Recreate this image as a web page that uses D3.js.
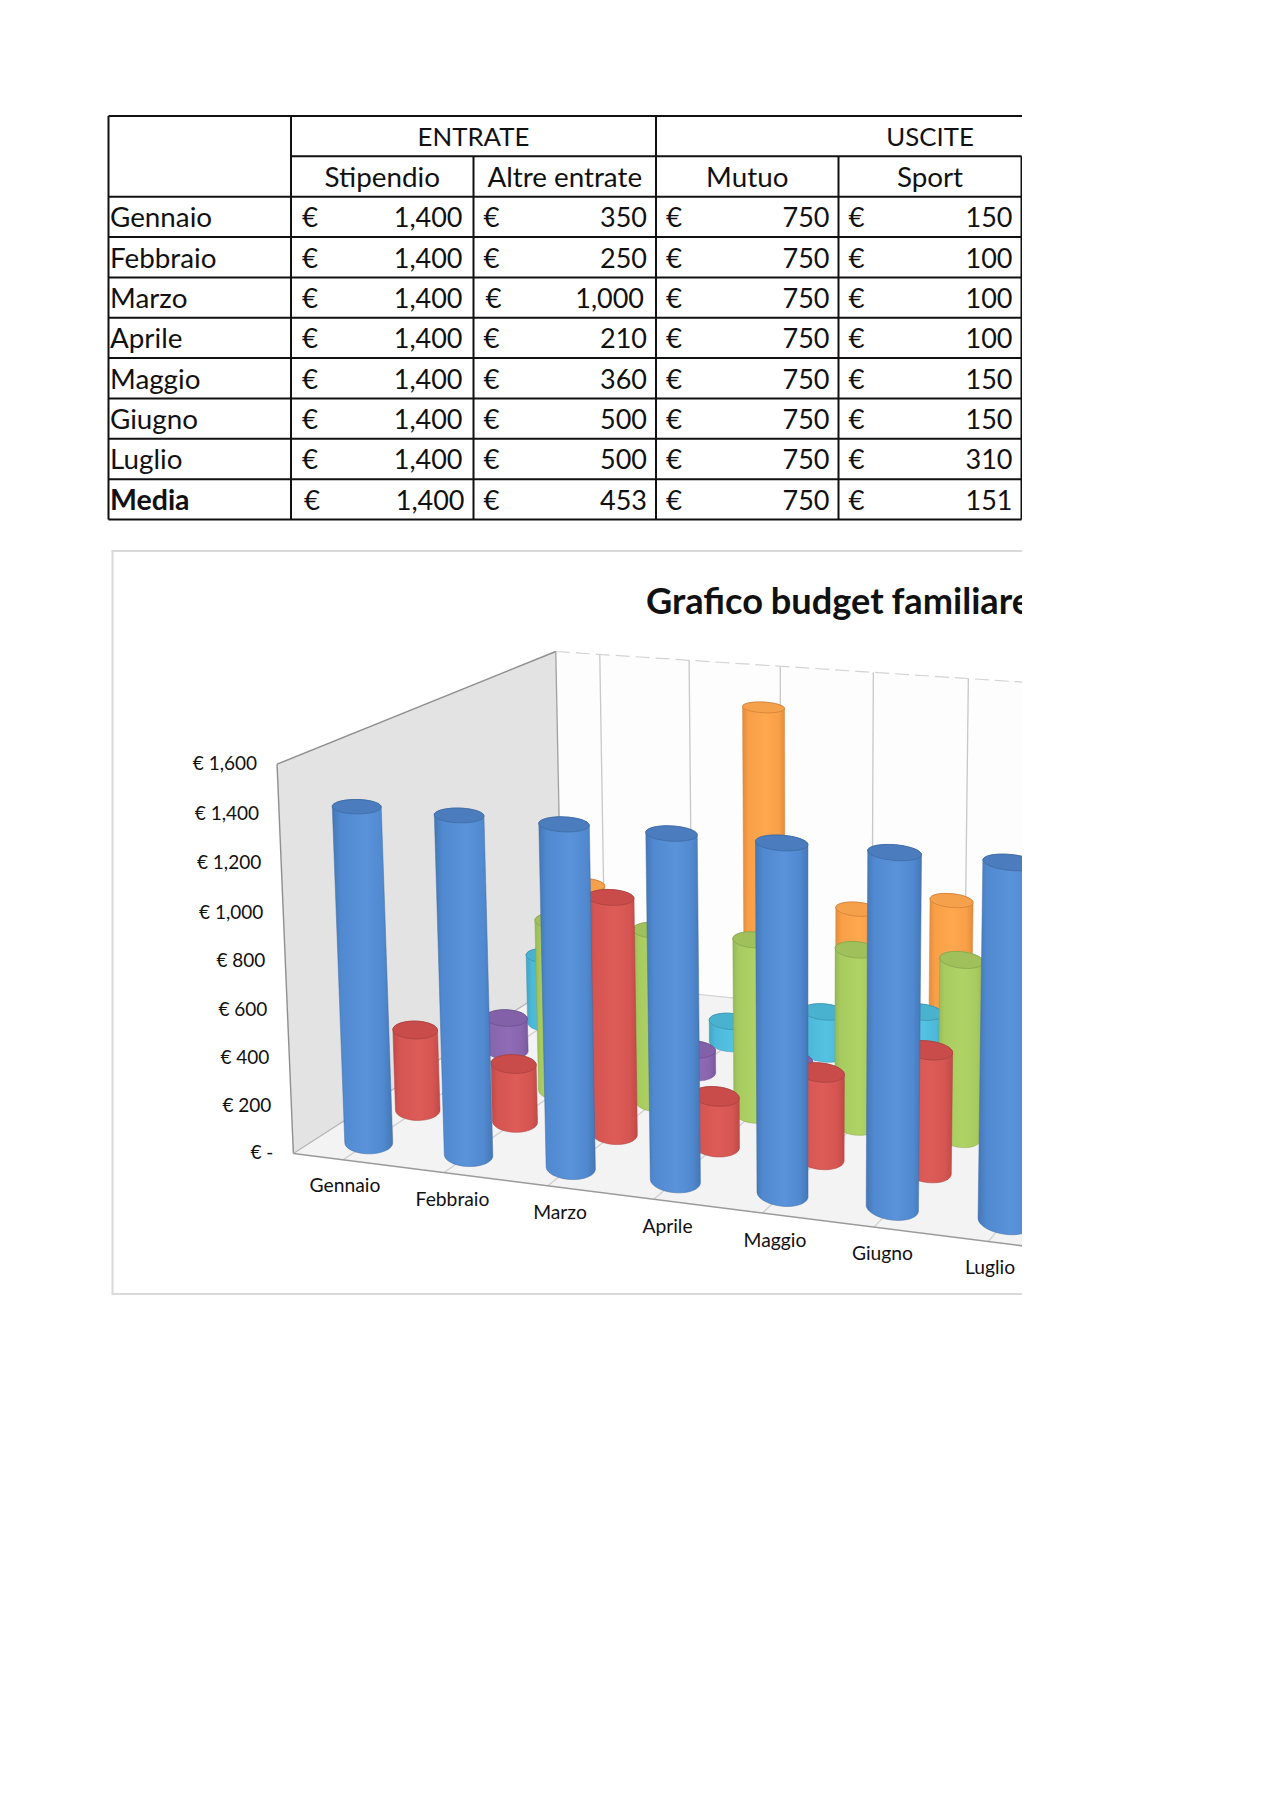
<!DOCTYPE html>
<html><head><meta charset="utf-8">
<script src="https://cdn.jsdelivr.net/npm/d3@7"></script>
<style>html,body{margin:0;padding:0;background:#fff}svg{display:block}text{font-family:Lato,Carlito,sans-serif;fill:#111}</style>
</head><body><div id="c"></div>
<script>
const categories=["Gennaio","Febbraio","Marzo","Aprile","Maggio","Giugno","Luglio"];
const rowLabels=[...categories,"Media"];
const stipendio=[1400,1400,1400,1400,1400,1400,1400];
const altreEntrate=[350,250,1000,210,360,500,500];
const mutuo=[750,750,750,750,750,750,750];
const sport=[150,100,100,100,150,150,310];
const serie5=[320,200,100,190,235,260,200];
const serie6=[545,560,1450,550,630,480,450];
const mediaRow=[1400,453,750,151];
const columnsHeader=["Stipendio","Altre entrate","Mutuo","Sport"];
const valueTicks=[0,200,400,600,800,1000,1200,1400,1600];
const seriesNames=["Stipendio","Altre entrate","Mutuo","Sport","Serie5","Serie6"];
const seriesValues=[stipendio,altreEntrate,mutuo,sport,serie5,serie6];
const palette=[
 {dark:"#4577b6",mid:"#5089cf",light:"#5a93d9",top:"#4a7cbe",line:"#3f6ba3"},
 {dark:"#c24a47",mid:"#d55552",light:"#de5c58",top:"#c94c4b",line:"#a84240"},
 {dark:"#98b957",mid:"#a8cb60",light:"#b0d366",top:"#9fc05a",line:"#86a64c"},
 {dark:"#7a5a9e",mid:"#8866ae",light:"#8f6cb5",top:"#8261a8",line:"#6d5090"},
 {dark:"#43a5c2",mid:"#4db9d9",light:"#54c2e2",top:"#48b2cf",line:"#3c94ad"},
 {dark:"#e58c3c",mid:"#f89f48",light:"#ffa84f",top:"#f5a04a",line:"#d0803a"}
];
const W=1280,H=1811,clipRight=1022;
const svg=d3.select("#c").append("svg").attr("width",W).attr("height",H);
const defs=svg.append("defs");
defs.append("clipPath").attr("id","page").append("rect").attr("x",0).attr("y",0).attr("width",clipRight).attr("height",H);
const root=svg.append("g").attr("clip-path","url(#page)");

/* ---------- table ---------- */
const colX=[108.5,291,473.5,656,838.5,1021.5];
const rowScale=d3.scaleLinear().domain([0,10]).range([116,519.5]);
const t=root.append("g");
const tl=(x1,y1,x2,y2)=>t.append("line").attr("x1",x1).attr("y1",y1).attr("x2",x2).attr("y2",y2).attr("stroke","#111").attr("stroke-width",2);
tl(colX[0],rowScale(0),clipRight,rowScale(0));
tl(colX[1],rowScale(1),colX[5],rowScale(1));
d3.range(2,11).forEach(r=>tl(colX[0],rowScale(r),colX[5],rowScale(r)));
tl(colX[0],rowScale(0),colX[0],rowScale(10));
tl(colX[1],rowScale(0),colX[1],rowScale(10));
tl(colX[2],rowScale(1),colX[2],rowScale(10));
tl(colX[3],rowScale(0),colX[3],rowScale(10));
tl(colX[4],rowScale(1),colX[4],rowScale(10));
tl(colX[5],rowScale(1),colX[5],rowScale(10));
const cellY=r=>rowScale(r)+30.5;
const tt=(s,x,y,anchor,bold,size)=>t.append("text").attr("x",x).attr("y",y).attr("text-anchor",anchor).attr("font-size",size||(bold?28.5:27.8)).attr("font-weight",bold?700:400).text(s);
tt("ENTRATE",(colX[1]+colX[3])/2,cellY(0)-1,"middle",false,25.8);
tt("USCITE",930,cellY(0)-1,"middle",false,25.8);
columnsHeader.forEach((c,i)=>tt(c,(colX[i+1]+colX[i+2])/2,cellY(1),"middle"));
const tableCols=[stipendio,altreEntrate,mutuo,sport];
const fmt=d3.format(",");
rowLabels.forEach((lab,r)=>{
  const isMedia=r===7;
  tt(lab,110,cellY(r+2),"start",isMedia);
  tableCols.forEach((col,c)=>{
    const v=isMedia?mediaRow[c]:col[r];
    const nudge=(c===0?-2:0)+((c===0&&isMedia)?2:(c===1&&v===1000)?-3:0);
    const eNudge=(c===0&&isMedia)?2:(c===1&&v===1000)?1:(c>=1?-1:0);
    tt("€",colX[c+1]+11+eNudge,cellY(r+2),"start");
    tt(fmt(v),colX[c+2]-9+nudge,cellY(r+2),"end",false,27);
  });
});

/* ---------- chart frame ---------- */
root.append("rect").attr("x",112.5).attr("y",551).attr("width",1100).attr("height",743).attr("fill","#fff").attr("stroke","#d9d9d9").attr("stroke-width",2);
root.append("text").attr("x",646).attr("y",614).attr("font-size",36.2).attr("font-weight",700).attr("word-spacing",-1).text("Grafico budget familiare");

/* ---------- scales + camera ---------- */
const xBand=d3.scaleBand().domain(categories).range([0,7]);
const zBand=d3.scaleBand().domain(seriesNames).range([0,1]);
const yVal=d3.scaleLinear().domain([0,1600]).range([0,1]);
const xc=c=>xBand(c)+xBand.bandwidth()/2;
const zc=s=>zBand(s)+zBand.bandwidth()/2;
/* camera anchors: world (x,y,z) -> page pixel, solved by least squares for a 3x4 projection */
const cameraAnchors=[
 [0,0,0,293,1154],[0,1,0,277,764],[0,1,1,556,652],[0,0,1,563,982],
 [.5,0,0,343,1160],[1.5,0,0,445,1173],[2.5,0,0,548,1187],[3.5,0,0,653,1200],[4.5,0,0,762,1213],[5.5,0,0,875,1228],[6.5,0,0,988,1243],
 [.5,1,1,600,654],[1.5,1,1,689,660],[2.5,1,1,780,666],[3.5,1,1,873,672],[4.5,1,1,968,678],
 [.5,.875,1/12,357,807],[.5,0,1/12,368,1139],[3.5,.875,1/12,672,834],[3.5,0,1/12,676,1179],[5.5,.875,1/12,894,853],[5.5,0,1/12,893,1207],
 [6.5,.875,1/12,1011,863],[6.5,0,1/12,1004,1220],
 [.5,0,3/12,417,1110]
];
function solveCamera(pts){
  const n=11,A=d3.range(n).map(()=>new Array(n).fill(0)),b=new Array(n).fill(0);
  const add=(row,rhs)=>{for(let i=0;i<n;i++){b[i]+=row[i]*rhs;for(let j=0;j<n;j++)A[i][j]+=row[i]*row[j];}};
  pts.forEach(([x,y,z,u,v])=>{
    const U=u/1000,V=v/1000;
    add([x,y,z,1,0,0,0,0,-U*x,-U*y,-U*z],U);
    add([0,0,0,0,x,y,z,1,-V*x,-V*y,-V*z],V);
  });
  for(let i=0;i<n;i++){
    let p=i;for(let r=i+1;r<n;r++)if(Math.abs(A[r][i])>Math.abs(A[p][i]))p=r;
    [A[i],A[p]]=[A[p],A[i]];[b[i],b[p]]=[b[p],b[i]];
    for(let r=i+1;r<n;r++){const f=A[r][i]/A[i][i];for(let c=i;c<n;c++)A[r][c]-=f*A[i][c];b[r]-=f*b[i];}
  }
  const s=new Array(n).fill(0);
  for(let i=n-1;i>=0;i--){let v=b[i];for(let c=i+1;c<n;c++)v-=A[i][c]*s[c];s[i]=v/A[i][i];}
  return s;
}
const M=solveCamera(cameraAnchors);
const proj=(x,y,z)=>{const w=M[8]*x+M[9]*y+M[10]*z+1;
  return [1000*(M[0]*x+M[1]*y+M[2]*z+M[3])/w,1000*(M[4]*x+M[5]*y+M[6]*z+M[7])/w];};
const line=d3.line();
const chart=root.append("g");

/* walls */
chart.append("path").attr("d",line([proj(0,0,0),proj(0,1,0),proj(0,1,1),proj(0,0,1)])+"Z").attr("fill","#e3e3e3");
chart.append("path").attr("d",line([proj(0,0,1),proj(0,1,1),proj(7,1,1),proj(7,0,1)])+"Z").attr("fill","#fdfdfd");
chart.append("path").attr("d",line([proj(0,0,0),proj(0,0,1),proj(7,0,1),proj(7,0,0)])+"Z").attr("fill","#f3f3f3");
const wallLine=(a,b,col,w,dash)=>chart.append("path").attr("d",line([a,b])).attr("fill","none").attr("stroke",col).attr("stroke-width",w).attr("stroke-dasharray",dash||null);
categories.forEach(c=>{
  const x=xc(c);
  wallLine(proj(x,0,0),proj(x,0,1),"#cfcfcf",1.3);
  wallLine(proj(x,0,1),proj(x,1,1),"#c8c8c8",1.3);
});
wallLine(proj(0,1,1),proj(7,1,1),"#d4d4d4",1.2,"14 6");
wallLine(proj(0,0,1),proj(7,0,1),"#d4d4d4",1.2);
wallLine(proj(0,1,0),proj(0,1,1),"#8f8f8f",1.4);
wallLine(proj(0,0,0),proj(0,1,0),"#8f8f8f",1.4);
wallLine(proj(0,0,1),proj(0,1,1),"#a0a0a0",1.3);
wallLine(proj(0,0,0),proj(0,0,1),"#b5b5b5",1.3);
wallLine(proj(0,0,0),proj(7,0,0),"#9a9a9a",1.5);

/* gradients */
palette.forEach((p,i)=>{
  const g=defs.append("linearGradient").attr("id","g"+i).attr("x1",0).attr("x2",1).attr("y1",0).attr("y2",0);
  [[0,p.dark],[.14,p.mid],[.55,p.light],[.85,p.mid],[1,p.dark]].forEach(([o,c])=>g.append("stop").attr("offset",o).attr("stop-color",c));
});

/* cylinders, back to front */
const rxBySeries=[.235,.225,.205,.225,.225,.225],rzTop=.044,rzBottom=.048,shear=1.8,angles=d3.range(0,2*Math.PI,Math.PI/24);
const ring=(x,y,z,rx,rz)=>angles.map(a=>proj(x+rx*Math.cos(a)-shear*rz*Math.sin(a),y,z+rz*Math.sin(a)));
const bars=[];
seriesNames.forEach((s,k)=>categories.forEach((c,i)=>bars.push({k,s,c,v:seriesValues[k][i]})));
bars.sort((a,b)=>d3.descending(a.k,b.k)||d3.ascending(categories.indexOf(a.c),categories.indexOf(b.c)));
bars.forEach(d=>{
  const x=xc(d.c),z=zc(d.s),y=yVal(d.v),p=palette[d.k],rx=rxBySeries[d.k];
  const bottom=ring(x,0,z,rx,rzBottom),top=ring(x,y,z,rx,rzTop);
  const hull=d3.polygonHull(bottom.concat(top));
  const g=chart.append("g");
  g.append("path").attr("d",line(hull)+"Z").attr("fill",`url(#g${d.k})`).attr("stroke",p.line).attr("stroke-width",.7).attr("stroke-opacity",.7);
  g.append("path").attr("d",line(top)+"Z").attr("fill",p.top).attr("stroke",p.line).attr("stroke-width",.8);
});

/* value axis labels */
valueTicks.forEach(v=>{
  const [px,py]=proj(0,yVal(v),0);
  chart.append("text").attr("x",px-20).attr("y",py+5.5).attr("text-anchor","end").attr("font-size",19).attr("fill","#222")
    .text(v===0?"€ -":"€ "+fmt(v));
});
/* category labels */
const labX=d3.scalePoint().domain(categories).range([345,990]);
const labY=d3.scalePoint().domain(categories).range([1192,1274]);
categories.forEach(c=>chart.append("text").attr("x",labX(c)).attr("y",labY(c)).attr("text-anchor","middle").attr("font-size",19.3).attr("fill","#222").text(c));
</script></body></html>
